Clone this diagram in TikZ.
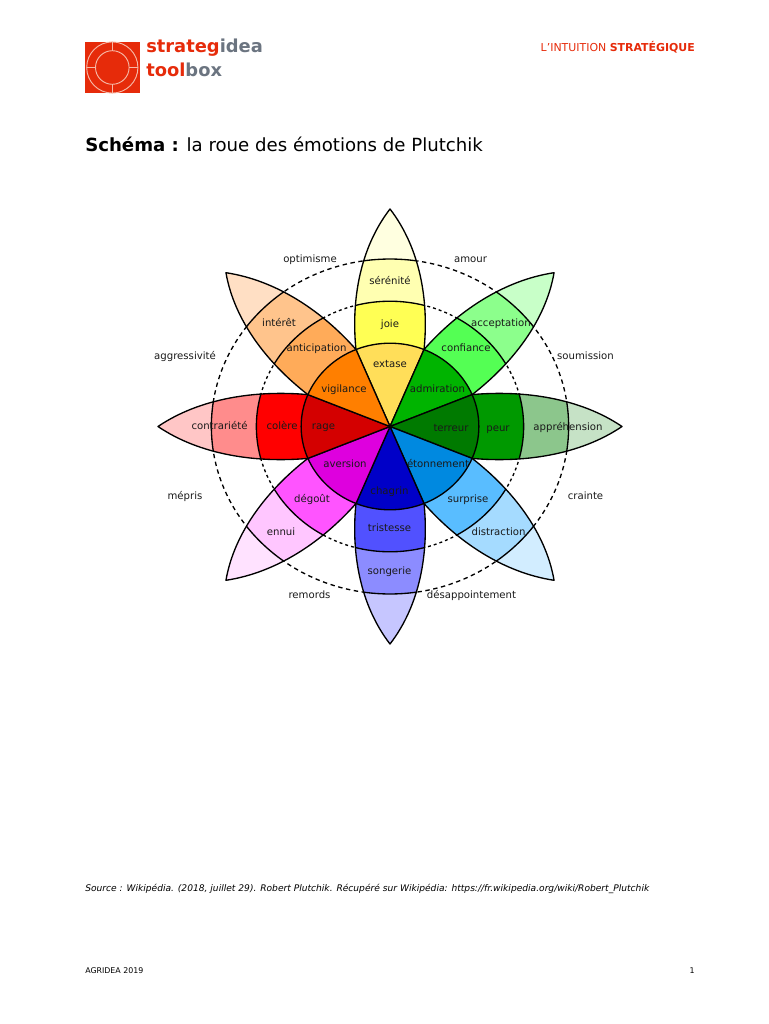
\documentclass[tikz,border=0pt]{standalone}
\usepackage{xcolor}
\usepackage{fontspec}
\setmainfont{DejaVu Sans}
\usetikzlibrary{positioning}
\definecolor{logored}{HTML}{E62B0A}
\definecolor{logogrey}{HTML}{6B7480}
\definecolor{logoline}{HTML}{F6B9A8}
\definecolor{wheeltext}{HTML}{1A1A1A}
\newcommand{\petaloutline}{(0,0) -- (35.4,14.67) .. controls (58,16.8) and (82,13) .. (100,0) .. controls (82,-13) and (58,-16.8) .. (35.4,-14.67) -- cycle}
\tikzset{
	line width = .75pt,
	emotion/.style={
		font=\fontsize{7.6}{9}\selectfont,
		text=wheeltext,
		inner sep=0pt,
		anchor=base,
		yshift=-2.8pt
	},
	ringline/.style={
		draw=black,
		line width=1pt
	},
	dashinner/.style={
		draw=black,
		line width=1pt,
		dash pattern=on 2.2pt off 2.3pt
	},
	dashouter/.style={
		draw=black,
		line width=1pt,
		dash pattern=on 3.3pt off 2.7pt
	},
	pagetext/.style={
		inner sep=0pt,
		anchor=base west
	},
	logoring/.style={
		draw=logoline,
		line width=.7pt
	}
}
\begin{document}
\begin{tikzpicture}[x=.75pt, y=-.75pt]
	\useasboundingbox (0,0) rectangle (768,1024);

	% logo
	\node[fill=logored, minimum width=41pt, minimum height=38pt, inner sep=0pt] at (112.3,67.5) (logobox) {};
	\coordinate (logomid) at (112.3,67.5);
	\draw[logoring] (logomid) circle (19.2pt);
	\draw[logoring] (logomid) circle (12.6pt);
	\foreach \ang in {0,90,180,270}
		\draw[logoring] ([shift={(\ang:12.6pt)}]logomid) -- ([shift={(\ang:19.2pt)}]logomid);
	\node[pagetext, font=\fontsize{13.4}{16}\bfseries\selectfont, text=logored] at (146,53) (logoa) {strateg\textcolor{logogrey}{idea}};
	\node[pagetext, font=\fontsize{13.4}{16}\bfseries\selectfont, text=logored] at (146,77) (logob) {tool\textcolor{logogrey}{box}};
	\node[inner sep=0pt, anchor=base east, font=\fontsize{8.2}{10}\selectfont, text=logored] at (695,52) (motto) {L’INTUITION \textbf{STRATÉGIQUE}};

	% title
	\node[pagetext, font=\fontsize{13.6}{18}\selectfont] at (85,151) (title) {\textbf{Schéma :} la roue des émotions de Plutchik};

	% wheel
	\begin{scope}[shift={(390,426.5)}, xscale=2.32, yscale=2.175]
		\draw[dashinner] (0,0) circle (57.6);
		\draw[dashouter] (0,0) circle (77);
		\foreach \ang/\ca/\cb/\cc/\cd in {
			90/FFDE59/FFFF54/FFFFB1/FFFFE0,
			45/00B400/54FF54/8CFF8C/C8FFC8,
			0/007A00/009900/8CC68C/C6E2C6,
			-45/0089E0/59BDFF/A5DBFF/D2EDFF,
			-90/0000C8/5151FF/8C8CFF/C6C6FF,
			-135/DE00DE/FF54FF/FFC6FF/FFE2FF,
			180/D40000/FF0000/FF8C8C/FFC6C6,
			135/FF7F00/FFAB59/FFC48C/FFDFC4}
		{
			\definecolor{tipcol}{HTML}{\cd}
			\definecolor{outercol}{HTML}{\cc}
			\definecolor{midcol}{HTML}{\cb}
			\definecolor{innercol}{HTML}{\ca}
			\begin{scope}[rotate=\ang]
				\begin{scope}
					\clip \petaloutline;
					\fill[tipcol] \petaloutline;
					\fill[outercol] (0,0) circle (77);
					\fill[midcol] (0,0) circle (57.6);
					\fill[innercol] (0,0) circle (38.3);
					\draw[ringline] (0,0) circle (77);
					\draw[ringline] (0,0) circle (57.6);
					\draw[ringline] (0,0) circle (38.3);
				\end{scope}
				\draw[ringline, line join=round] \petaloutline;
			\end{scope}
		}
	\end{scope}

	% labels on the petals
	\foreach \nm/\px/\py/\txt in {
		serenite/390/281/sérénité, joie/390/324/joie, extase/390/364/extase,
		acceptation/501/323/acceptation, confiance/466/348/confiance, admiration/437.5/389/admiration,
		apprehension/568/427/appréhension, peur/498/428/peur, terreur/451/428/terreur,
		distraction/498.5/532/distraction, surprise/468/499/surprise, etonnement/438/464/étonnement,
		songerie/389.5/571/songerie, tristesse/389.5/528/tristesse, chagrin/389.5/491/chagrin,
		ennui/281/532/ennui, degout/312/499/dégoût, aversion/345/464/aversion,
		contrariete/219.5/426/contrariété, colere/282/426/colère, rage/323.5/426/rage,
		interet/279/323/intérêt, anticipation/316.5/348/anticipation, vigilance/344/389/vigilance,
		optimisme/310/259/optimisme, amour/470.5/259/amour,
		soumission/585.5/356/soumission, crainte/585.5/496/crainte,
		desappointement/471.5/595/désappointement, remords/309.5/595/remords,
		mepris/185/496/mépris, aggressivite/185/356/aggressivité}
		\node[emotion] at (\px,\py) (\nm) {\txt};

	% foot of the page
	\node[pagetext, font=\fontsize{6.83}{9}\itshape\selectfont] at (85,891) (source) {Source : Wikipédia. (2018, juillet 29). Robert Plutchik. Récupéré sur Wikipédia: https://fr.wikipedia.org/wiki/Robert\_Plutchik};
	\node[pagetext, font=\fontsize{5.9}{8}\selectfont] at (85,973) (agridea) {AGRIDEA 2019};
	\node[inner sep=0pt, anchor=base east, font=\fontsize{5.9}{8}\selectfont] at (695,973) (pagenum) {1};
\end{tikzpicture}
\end{document}
